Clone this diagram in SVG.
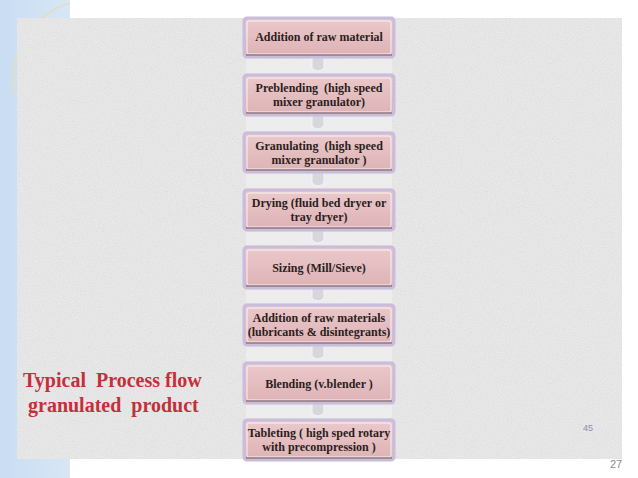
<svg xmlns="http://www.w3.org/2000/svg" width="638" height="478" viewBox="0 0 638 478">
<defs>
<linearGradient id="boxFill" x1="0" y1="0" x2="0" y2="1">
<stop offset="0" stop-color="#EBC9CB"/>
<stop offset="1" stop-color="#DDB2B5"/>
</linearGradient>
<linearGradient id="blue" x1="0" y1="0" x2="1" y2="0">
<stop offset="0" stop-color="#C9DDF3"/>
<stop offset="1" stop-color="#D8E6F5"/>
</linearGradient>
<filter id="noise" x="0" y="0" width="100%" height="100%">
<feTurbulence type="fractalNoise" baseFrequency="0.8" numOctaves="2" seed="3" result="n"/>
<feColorMatrix in="n" type="matrix" values="0 0 0 0 0.6  0 0 0 0 0.6  0 0 0 0 0.6  0 0 0 0.6 -0.1" result="g"/>
<feComposite in="g" in2="SourceGraphic" operator="in" result="t"/>
<feMerge><feMergeNode in="SourceGraphic"/><feMergeNode in="t"/></feMerge>
</filter>
</defs>
<style>
text{white-space:pre}
.box{fill:url(#boxFill);stroke:#C9BCDD;stroke-width:3}
.inner{fill:none;stroke:#FFFFFF;stroke-width:1;opacity:0.8}
.shadow{stroke:#8E7A80;stroke-width:1.5}
.lbl{font-family:"Liberation Serif",serif;font-weight:bold;font-size:12px;fill:#2B1E20;text-anchor:middle}
.title{font-family:"Liberation Serif",serif;font-weight:bold;font-size:20px;fill:#C3303A}
.conn{fill:#D6D6DC;stroke:#F4F4F8;stroke-width:1}
.band{fill:#F2F2F4;opacity:0.6}
</style>
<rect x="0" y="0" width="638" height="478" fill="#FFFFFF"/>
<rect x="0" y="0" width="70" height="478" fill="url(#blue)"/>
<path d="M70,3 A82,82 0 0 0 14,95" fill="none" stroke="#E6DDBE" stroke-width="1.5"/>
<rect x="17" y="18" width="605" height="441" fill="#EBEBEB" filter="url(#noise)"/>

<g id="connectors">
<rect class="band" x="246" y="59" width="146" height="14"/>
<path class="conn" d="M312,57 L324,57 L324,68 Q318,74 312,68 Z"/>
<rect class="band" x="246" y="117" width="146" height="14"/>
<path class="conn" d="M312,115 L324,115 L324,126 Q318,132 312,126 Z"/>
<rect class="band" x="246" y="174" width="146" height="14"/>
<path class="conn" d="M312,172 L324,172 L324,183 Q318,189 312,183 Z"/>
<rect class="band" x="246" y="232" width="146" height="13"/>
<path class="conn" d="M312,230 L324,230 L324,240 Q318,246 312,240 Z"/>
<rect class="band" x="246" y="290" width="146" height="13"/>
<path class="conn" d="M312,288 L324,288 L324,298 Q318,304 312,298 Z"/>
<rect class="band" x="246" y="347" width="146" height="14"/>
<path class="conn" d="M312,345 L324,345 L324,356 Q318,362 312,356 Z"/>
<rect class="band" x="246" y="405" width="146" height="13"/>
<path class="conn" d="M312,403 L324,403 L324,413 Q318,419 312,413 Z"/>
</g>

<g id="n1">
<rect class="box" x="244" y="18" width="150" height="39" rx="3"/>
<rect class="inner" x="247" y="21" width="144" height="33" rx="2"/>
<line class="shadow" x1="246" y1="55" x2="392" y2="55"/>
<text class="lbl" x="319" y="41">Addition of raw material</text>
</g>
<g id="n2">
<rect class="box" x="244" y="75" width="150" height="40" rx="3"/>
<rect class="inner" x="247" y="78" width="144" height="34" rx="2"/>
<line class="shadow" x1="246" y1="113" x2="392" y2="113"/>
<text class="lbl" x="319" y="92" xml:space="preserve">Preblending  (high speed</text>
<text class="lbl" x="319" y="106">mixer granulator)</text>
</g>
<g id="n3">
<rect class="box" x="244" y="133" width="150" height="39" rx="3"/>
<rect class="inner" x="247" y="136" width="144" height="33" rx="2"/>
<line class="shadow" x1="246" y1="170" x2="392" y2="170"/>
<text class="lbl" x="319" y="150" xml:space="preserve">Granulating  (high speed</text>
<text class="lbl" x="319" y="164">mixer granulator )</text>
</g>
<g id="n4">
<rect class="box" x="244" y="190" width="150" height="40" rx="3"/>
<rect class="inner" x="247" y="193" width="144" height="34" rx="2"/>
<line class="shadow" x1="246" y1="228" x2="392" y2="228"/>
<text class="lbl" x="319" y="207">Drying (fluid bed dryer or</text>
<text class="lbl" x="319" y="221">tray dryer)</text>
</g>
<g id="n5">
<rect class="box" x="244" y="247" width="150" height="41" rx="3"/>
<rect class="inner" x="247" y="250" width="144" height="35" rx="2"/>
<line class="shadow" x1="246" y1="286" x2="392" y2="286"/>
<text class="lbl" x="319" y="272">Sizing (Mill/Sieve)</text>
</g>
<g id="n6">
<rect class="box" x="244" y="305" width="150" height="40" rx="3"/>
<rect class="inner" x="247" y="308" width="144" height="34" rx="2"/>
<line class="shadow" x1="246" y1="343" x2="392" y2="343"/>
<text class="lbl" x="319" y="322">Addition of raw materials</text>
<text class="lbl" x="319" y="336">(lubricants &amp; disintegrants)</text>
</g>
<g id="n7">
<rect class="box" x="244" y="363" width="150" height="40" rx="3"/>
<rect class="inner" x="247" y="366" width="144" height="34" rx="2"/>
<line class="shadow" x1="246" y1="401" x2="392" y2="401"/>
<text class="lbl" x="319" y="388">Blending (v.blender )</text>
</g>
<g id="n8">
<rect class="box" x="244" y="420" width="150" height="40" rx="3"/>
<rect class="inner" x="247" y="423" width="144" height="34" rx="2"/>
<line class="shadow" x1="246" y1="458" x2="392" y2="458"/>
<text class="lbl" x="319" y="437">Tableting ( high sped rotary</text>
<text class="lbl" x="319" y="451">with precompression )</text>
</g>

<g id="title">
<text class="title" x="23" y="387" xml:space="preserve">Typical  Process flow</text>
<text class="title" x="28" y="412" xml:space="preserve">granulated  product</text>
</g>
<text x="583" y="431" font-family="Liberation Sans, sans-serif" font-size="9" fill="#8A8FA6">45</text>
<text x="610" y="468" font-family="Liberation Sans, sans-serif" font-size="11" fill="#8A8A8A">27</text>
</svg>
